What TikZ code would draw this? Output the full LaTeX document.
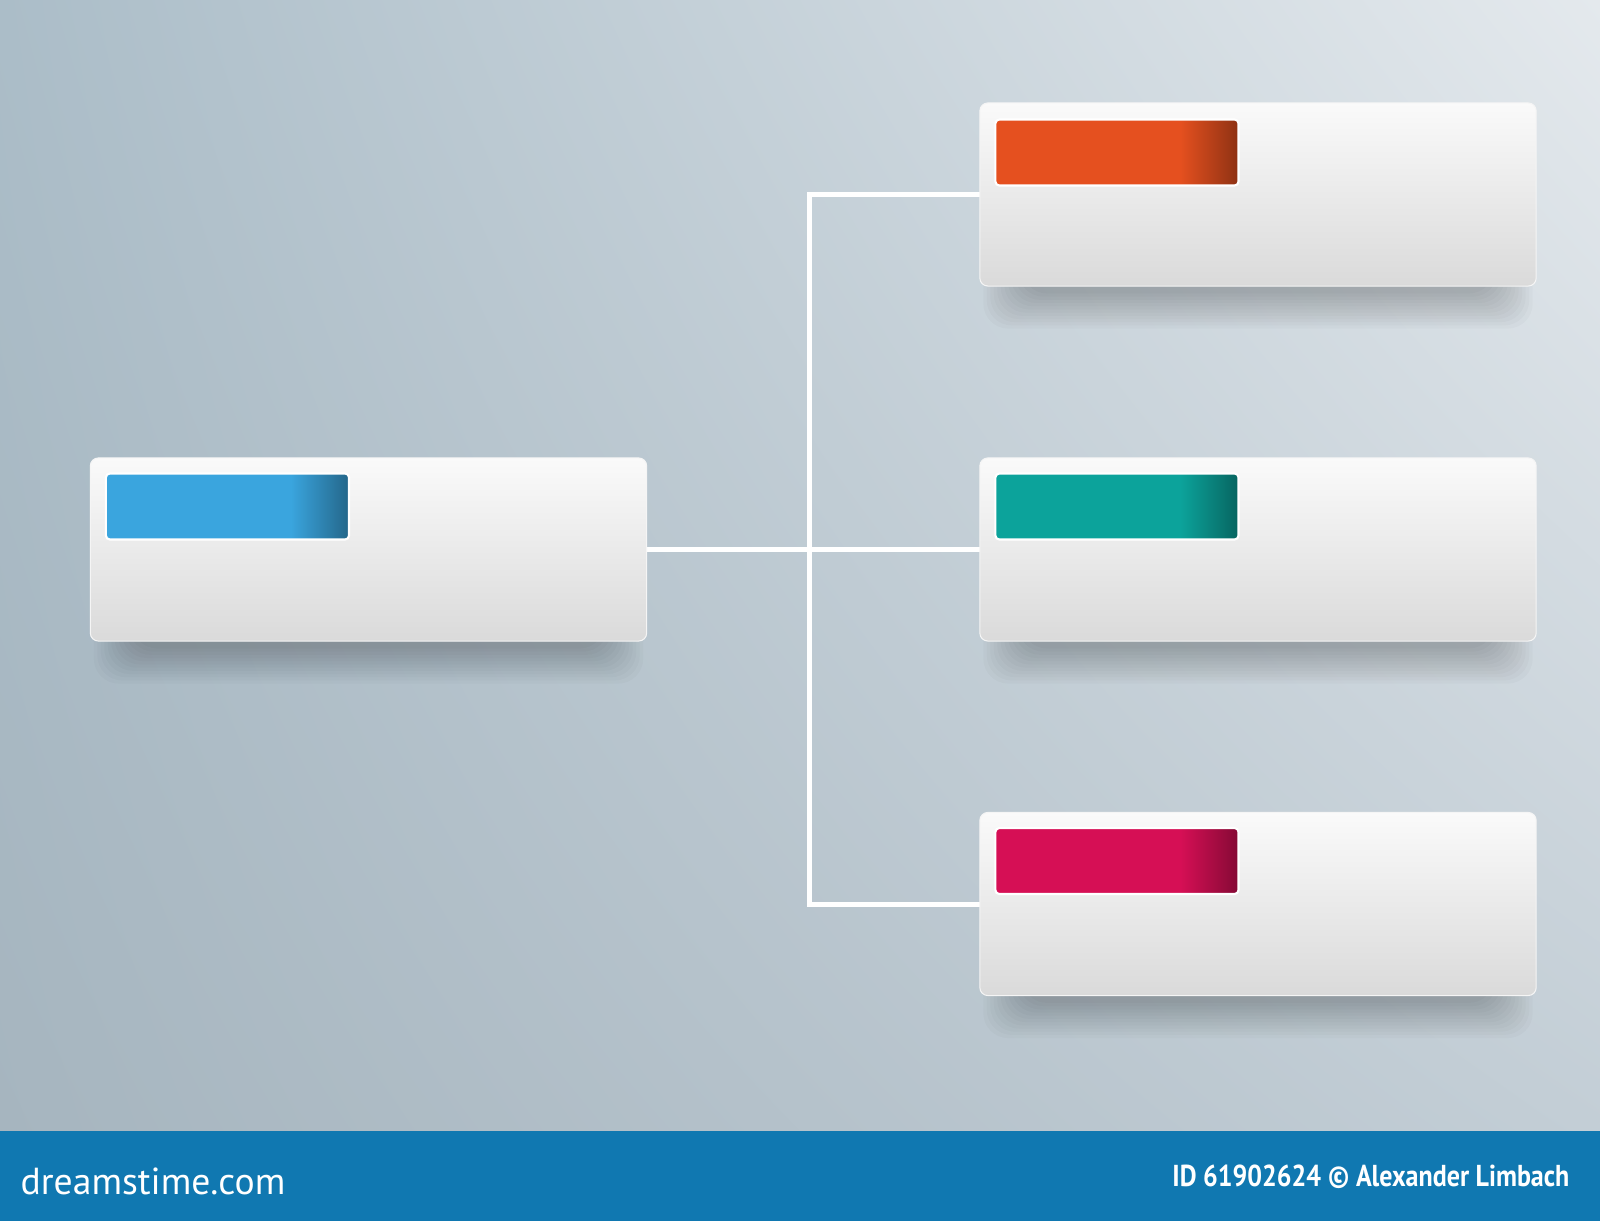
\documentclass[tikz,border=0pt]{standalone}
\usepackage{fontspec}
\newfontfamily\bannerfont{PT Sans}
\newfontfamily\creditfont[FakeStretch=0.86]{PT Sans}
\usetikzlibrary{shadings}
\definecolor{cblue}{HTML}{3AA5DE}
\definecolor{corange}{HTML}{E5501F}
\definecolor{cteal}{HTML}{0CA39B}
\definecolor{ccrimson}{HTML}{D60F55}
\definecolor{banner}{HTML}{1078B1}
\definecolor{boxtop}{HTML}{FAFAFA}
\definecolor{boxbot}{HTML}{DADADA}
\definecolor{bgul}{HTML}{ABBDC8}
\definecolor{bgur}{HTML}{E4E9ED}
\definecolor{bgll}{HTML}{A6B5BF}
\definecolor{bglr}{HTML}{C3CED6}
\pgfdeclarehorizontalshading{tabblue}{100bp}{color(0bp)=(cblue); color(63bp)=(cblue); color(75bp)=(cblue!62!black); color(100bp)=(cblue!62!black)}
\pgfdeclarehorizontalshading{taborange}{100bp}{color(0bp)=(corange); color(63bp)=(corange); color(75bp)=(corange!62!black); color(100bp)=(corange!62!black)}
\pgfdeclarehorizontalshading{tabteal}{100bp}{color(0bp)=(cteal); color(63bp)=(cteal); color(75bp)=(cteal!62!black); color(100bp)=(cteal!62!black)}
\pgfdeclarehorizontalshading{tabcrimson}{100bp}{color(0bp)=(ccrimson); color(63bp)=(ccrimson); color(75bp)=(ccrimson!62!black); color(100bp)=(ccrimson!62!black)}
\pgfdeclarelayer{backlayer}
\pgfdeclarelayer{shadowlayer}
\pgfsetlayers{backlayer,shadowlayer,main}
\tikzset{
  card/.style={rounded corners=0.08cm, minimum width=5.56cm, minimum height=1.83cm,
    inner sep=0pt, top color=boxtop, bottom color=boxbot, draw=white!92!gray, line width=0.3pt},
  tab/.style={rounded corners=0.04cm, minimum width=2.43cm, minimum height=0.66cm, inner sep=0pt,
    anchor=north west, draw=white, line width=0.6pt, shading=#1},
  conn/.style={draw=white, line width=0.05cm, line cap=rect},
  shadowpiece/.style={fill=black, opacity=0.02, rounded corners=0.25cm},
  bantext/.style={text=white, inner sep=0pt}
}
\newcommand\cardshadow[1]{%
  \foreach \k in {0,...,11}{%
    \fill[shadowpiece] ([xshift=0.04cm+\k*0.035cm, yshift=0.6cm]#1.south west) rectangle ([xshift=-0.04cm-\k*0.035cm, yshift=-0.42cm+\k*0.032cm]#1.south east);
  }%
}
\begin{document}
\begin{tikzpicture}[x=0.01cm,y=-0.01cm]
\useasboundingbox (0,0) rectangle (1600,1221);
\begin{pgfonlayer}{backlayer}
\shade[upper left=bgul, upper right=bgur, lower left=bgll, lower right=bglr] (0,0) rectangle (1600,1131);
\fill[banner] (0,1131) rectangle (1600,1221);
\end{pgfonlayer}
\coordinate (J) at (809,549.5);
% cards
\node[card] (L) at (368.5,549.5) {};
\node[card] (T) at (1258,194.5) {};
\node[card] (M) at (1258,549.5) {};
\node[card] (B) at (1258,904) {};
\begin{pgfonlayer}{shadowlayer}
\cardshadow{L}
\cardshadow{T}
\cardshadow{M}
\cardshadow{B}
\draw[conn] (L.east) -- (M.west);
\draw[conn] (T.west) -| (J) |- (B.west);
\end{pgfonlayer}
% coloured tabs
\node[tab=tabblue] (Lt) at ([xshift=0.15cm,yshift=-0.15cm]L.north west) {};
\node[tab=taborange] (Tt) at ([xshift=0.15cm,yshift=-0.16cm]T.north west) {};
\node[tab=tabteal] (Mt) at ([xshift=0.15cm,yshift=-0.15cm]M.north west) {};
\node[tab=tabcrimson] (Bt) at ([xshift=0.15cm,yshift=-0.15cm]B.north west) {};
% banner texts
\node[bantext, anchor=base west, font=\bannerfont\fontsize{10.7}{13}\selectfont] (site) at (20,1194) {dreamstime.com};
\node[bantext, anchor=east, font=\creditfont\bfseries\fontsize{8.6}{10}\selectfont] (credit) at (1570,1177) {ID 61902624 © Alexander Limbach};
\end{tikzpicture}
\end{document}
